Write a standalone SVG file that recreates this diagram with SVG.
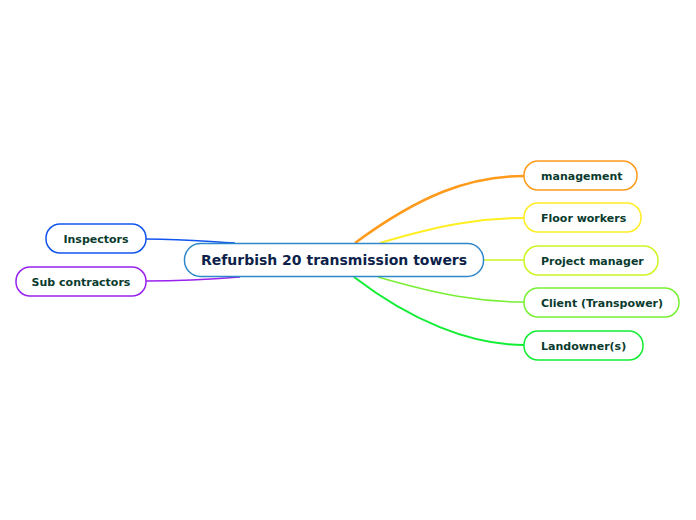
<svg xmlns="http://www.w3.org/2000/svg" width="696" height="520" viewBox="0 0 696 520">
<style>
.n{fill:#fff;stroke-width:1.5}
.t{font-family:"DejaVu Sans",Verdana,sans-serif;font-weight:bold;font-size:11px;fill:#0a3b2e}
.c{fill:none}
</style>
<rect width="696" height="520" fill="#fff"/>
<g id="connectors">
<path class="c" d="M355,243 C420,195 470,176 524,176" stroke="#ff9a1a" stroke-width="2.5"/>
<path class="c" d="M380,243 C440,225 480,218 524,218" stroke="#ffee22" stroke-width="2"/>
<path class="c" d="M483,260 L524,260" stroke="#ccf522" stroke-width="1.5"/>
<path class="c" d="M378,277 C440,295 480,302 524,302" stroke="#77f033" stroke-width="1.5"/>
<path class="c" d="M354,277 C410,320 470,345 524,345" stroke="#11ee33" stroke-width="2"/>
<path class="c" d="M146,239 C190,239 210,242 235,243" stroke="#1155ee" stroke-width="1.3"/>
<path class="c" d="M146,281 C190,281 215,279 240,277" stroke="#9922ee" stroke-width="1.3"/>
</g>
<g id="center"><rect class="n" x="184.5" y="243.5" width="299" height="33" rx="16" stroke="#2f88cc"/><text x="334" y="265" text-anchor="middle" style="font-family:'DejaVu Sans',Verdana,sans-serif;font-weight:bold;font-size:14px;fill:#0d1f4a">Refurbish 20 transmission towers</text></g>
<g id="management"><rect class="n" x="524" y="161" width="113" height="29" rx="14" stroke="#ff9a1a"/><text class="t" x="541" y="180">management</text></g>
<g id="floor"><rect class="n" x="524" y="203" width="117" height="29" rx="14" stroke="#ffee22"/><text class="t" x="541" y="222">Floor workers</text></g>
<g id="pm"><rect class="n" x="524" y="246" width="134" height="29" rx="14" stroke="#ccf522"/><text class="t" x="541" y="265">Project manager</text></g>
<g id="client"><rect class="n" x="524" y="288" width="155" height="29" rx="14" stroke="#77f033"/><text class="t" x="541" y="307">Client (Transpower)</text></g>
<g id="landowner"><rect class="n" x="524" y="331" width="119" height="29" rx="14" stroke="#11ee33"/><text class="t" x="541" y="350">Landowner(s)</text></g>
<g id="inspectors"><rect class="n" x="46" y="224" width="100" height="29" rx="14" stroke="#1155ee"/><text class="t" x="96" y="243" text-anchor="middle">Inspectors</text></g>
<g id="sub"><rect class="n" x="16" y="267" width="130" height="29" rx="14" stroke="#9922ee"/><text class="t" x="81" y="286" text-anchor="middle">Sub contractors</text></g>
</svg>
